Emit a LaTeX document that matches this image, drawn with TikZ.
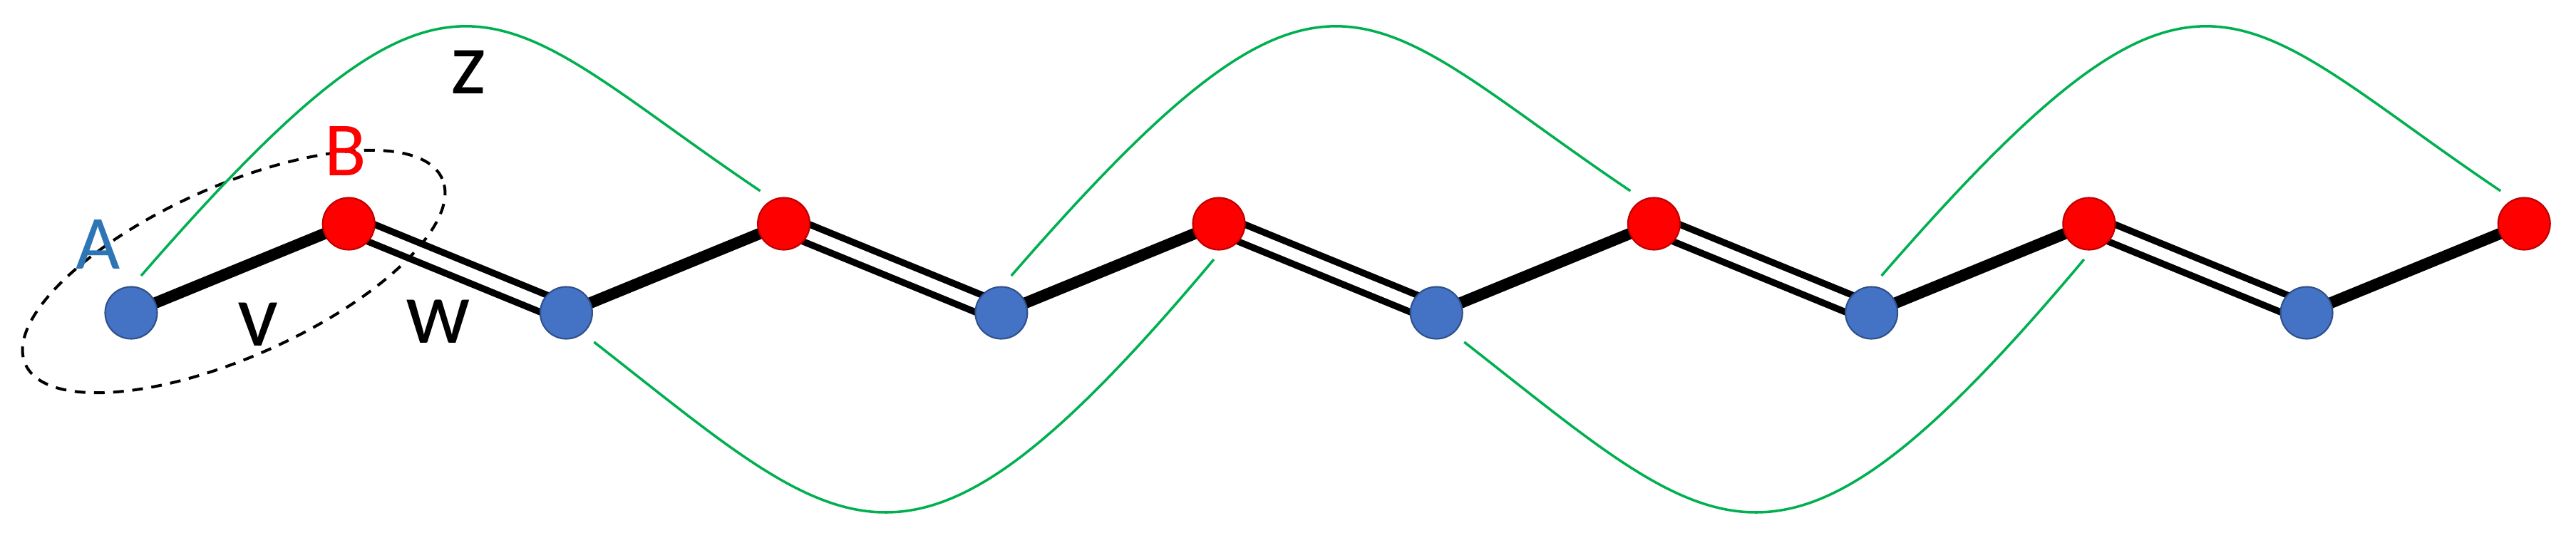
\documentclass[tikz,border=0pt]{standalone}
\usepackage{fontspec}
\setmainfont{Carlito}
\usetikzlibrary{positioning,calc,backgrounds}
\definecolor{nodeblue}{HTML}{4472C4}
\definecolor{labelblue}{HTML}{2E75B6}
\definecolor{linkgreen}{HTML}{00B050}

\begin{document}
\begin{tikzpicture}[node distance=1.25cm and 3.052cm,on grid,
      blue node/.style={circle,fill=nodeblue,draw=nodeblue!70!black,line width=0.6pt,
        inner sep=0pt,minimum size=0.73cm},
      red node/.style={circle,fill=red,draw=red!75!black,line width=0.6pt,
        inner sep=0pt,minimum size=0.73cm},
      single bond/.style={line width=0.16cm},
      double bond/.style={double,line width=0.095cm,double distance=0.16cm},
      link/.style={draw=linkgreen,line width=1pt},
      node label/.style={font=\fontsize{30.6}{36}\selectfont,anchor=base},
      edge label/.style={font=\fontsize{36}{43}\selectfont,anchor=base}]
    \useasboundingbox (0,0) rectangle (36.14,7.47);
    \node[blue node] (n0) at (1.84,3.08) {};
    \node[red node] (n1) [above right=of n0] {};
    \node[blue node] (n2) [below right=of n1] {};
    \node[red node] (n3) [above right=of n2] {};
    \node[blue node] (n4) [below right=of n3] {};
    \node[red node] (n5) [above right=of n4] {};
    \node[blue node] (n6) [below right=of n5] {};
    \node[red node] (n7) [above right=of n6] {};
    \node[blue node] (n8) [below right=of n7] {};
    \node[red node] (n9) [above right=of n8] {};
    \node[blue node] (n10) [below right=of n9] {};
    \node[red node] (n11) [above right=of n10] {};
    \begin{pgfonlayer}{background}
      \path
      (n0.center) edge[single bond] (n1.center)
      (n1.center) edge[double bond] (n2.center)
      (n2.center) edge[single bond] (n3.center)
      (n3.center) edge[double bond] (n4.center)
      (n4.center) edge[single bond] (n5.center)
      (n5.center) edge[double bond] (n6.center)
      (n6.center) edge[single bond] (n7.center)
      (n7.center) edge[double bond] (n8.center)
      (n8.center) edge[single bond] (n9.center)
      (n9.center) edge[double bond] (n10.center)
      (n10.center) edge[single bond] (n11.center)
      ;
    \end{pgfonlayer}
    % dashed ring round the first pair
    \coordinate (pair) at (3.28,3.66);
    \draw[dash pattern=on 0.15cm off 0.12cm,line width=0.04cm,
      rotate around={24:(pair)}] (pair) ellipse (3.2cm and 1.2cm);
    % green links, over and under
    \foreach \a/\b in {0/3,4/7,8/11}
      \draw[link] ($(n\a)+(0.14,0.52)$) .. controls ($(n\a)+(4.65,5.71)$)
        and ($(n\b)+(-4.13,3.02)$) .. ($(n\b)+(-0.33,0.46)$);
    \foreach \a/\b in {2/5,6/9}
      \draw[link] ($(n\a)+(0.39,-0.41)$) .. controls ($(n\a)+(4.01,-3.24)$)
        and ($(n\b)+(-4.34,-5.59)$) .. ($(n\b)+(-0.07,-0.50)$);
    \node[node label,text=labelblue] (la) at (1.38,3.70) {A};
    \node[node label,text=red] (lb) at (4.85,5.01) {B};
    \node[edge label] (lv) at (3.62,2.62) {v};
    \node[edge label] (lw) at (6.15,2.66) {w};
    \node[edge label] (lz) at (6.57,6.15) {z};
  \end{tikzpicture}
\end{document}
